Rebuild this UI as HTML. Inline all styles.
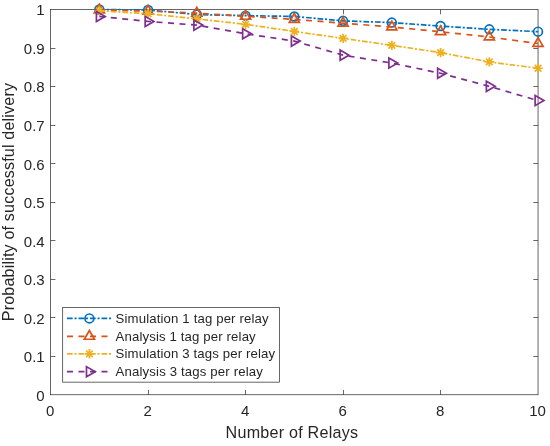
<!DOCTYPE html>
<html><head><meta charset="utf-8"><title>Probability of successful delivery</title>
<style>html,body{margin:0;padding:0;background:#fff}svg{display:block}text{font-family:"Liberation Sans",Arial,Helvetica,sans-serif;fill:#262626}</style></head><body>
<svg width="550" height="446" viewBox="0 0 550 446">
<rect width="550" height="446" fill="#fff"/>
<rect x="50.6" y="9.5" width="487.44999999999993" height="385.25" fill="none" stroke="#262626" stroke-width="0.7"/>
<path d="M148.50 394.75v-4.8M148.50 9.5v4.8M245.50 394.75v-4.8M245.50 9.5v4.8M343.50 394.75v-4.8M343.50 9.5v4.8M440.50 394.75v-4.8M440.50 9.5v4.8M50.6 356.50h4.8M538.05 356.50h-4.8M50.6 317.50h4.8M538.05 317.50h-4.8M50.6 279.50h4.8M538.05 279.50h-4.8M50.6 240.50h4.8M538.05 240.50h-4.8M50.6 202.50h4.8M538.05 202.50h-4.8M50.6 163.50h4.8M538.05 163.50h-4.8M50.6 125.50h4.8M538.05 125.50h-4.8M50.6 86.50h4.8M538.05 86.50h-4.8M50.6 48.50h4.8M538.05 48.50h-4.8" stroke="#262626" stroke-width="0.7" fill="none"/>
<text x="50.10" y="415.9" font-size="15" text-anchor="middle">0</text>
<text x="147.59" y="415.9" font-size="15" text-anchor="middle">2</text>
<text x="245.08" y="415.9" font-size="15" text-anchor="middle">4</text>
<text x="342.57" y="415.9" font-size="15" text-anchor="middle">6</text>
<text x="440.06" y="415.9" font-size="15" text-anchor="middle">8</text>
<text x="537.55" y="415.9" font-size="15" text-anchor="middle">10</text>
<text x="44.7" y="400.65" font-size="15" text-anchor="end">0</text>
<text x="44.7" y="362.12" font-size="15" text-anchor="end">0.1</text>
<text x="44.7" y="323.60" font-size="15" text-anchor="end">0.2</text>
<text x="44.7" y="285.07" font-size="15" text-anchor="end">0.3</text>
<text x="44.7" y="246.55" font-size="15" text-anchor="end">0.4</text>
<text x="44.7" y="208.03" font-size="15" text-anchor="end">0.5</text>
<text x="44.7" y="169.50" font-size="15" text-anchor="end">0.6</text>
<text x="44.7" y="130.98" font-size="15" text-anchor="end">0.7</text>
<text x="44.7" y="92.45" font-size="15" text-anchor="end">0.8</text>
<text x="44.7" y="53.92" font-size="15" text-anchor="end">0.9</text>
<text x="44.7" y="15.40" font-size="15" text-anchor="end">1</text>
<text x="225.6" y="438.2" font-size="16.13" textLength="132.4" lengthAdjust="spacing">Number of Relays</text>
<text transform="translate(13.6,321.2) rotate(-90)" font-size="16.13" textLength="238.2" lengthAdjust="spacing">Probability of successful delivery</text>
<polyline points="99.34,9.50 148.09,10.00 196.83,14.51 245.58,15.66 294.32,16.43 343.07,20.86 391.81,22.60 440.56,26.07 489.30,29.34 538.05,31.65" fill="none" stroke="#0072BD" stroke-width="1.7" stroke-dasharray="5.7 1.8 2.1 1.9"/>
<circle cx="99.34" cy="9.50" r="4.4" fill="none" stroke="#0072BD" stroke-width="1.7"/>
<circle cx="148.09" cy="10.00" r="4.4" fill="none" stroke="#0072BD" stroke-width="1.7"/>
<circle cx="196.83" cy="14.51" r="4.4" fill="none" stroke="#0072BD" stroke-width="1.7"/>
<circle cx="245.58" cy="15.66" r="4.4" fill="none" stroke="#0072BD" stroke-width="1.7"/>
<circle cx="294.32" cy="16.43" r="4.4" fill="none" stroke="#0072BD" stroke-width="1.7"/>
<circle cx="343.07" cy="20.86" r="4.4" fill="none" stroke="#0072BD" stroke-width="1.7"/>
<circle cx="391.81" cy="22.60" r="4.4" fill="none" stroke="#0072BD" stroke-width="1.7"/>
<circle cx="440.56" cy="26.07" r="4.4" fill="none" stroke="#0072BD" stroke-width="1.7"/>
<circle cx="489.30" cy="29.34" r="4.4" fill="none" stroke="#0072BD" stroke-width="1.7"/>
<circle cx="538.05" cy="31.65" r="4.4" fill="none" stroke="#0072BD" stroke-width="1.7"/>
<polyline points="99.34,10.04 148.09,11.16 196.83,13.16 245.58,16.32 294.32,19.36 343.07,23.21 391.81,26.95 440.56,31.77 489.30,36.97 538.05,43.52" fill="none" stroke="#D95319" stroke-width="1.7" stroke-dasharray="6 5.5"/>
<path d="M99.34 4.19L104.41 12.96L94.28 12.96Z" fill="none" stroke="#D95319" stroke-width="1.7"/>
<path d="M148.09 5.31L153.16 14.08L143.02 14.08Z" fill="none" stroke="#D95319" stroke-width="1.7"/>
<path d="M196.83 7.31L201.90 16.08L191.77 16.08Z" fill="none" stroke="#D95319" stroke-width="1.7"/>
<path d="M245.58 10.47L250.65 19.24L240.51 19.24Z" fill="none" stroke="#D95319" stroke-width="1.7"/>
<path d="M294.32 13.51L299.39 22.29L289.26 22.29Z" fill="none" stroke="#D95319" stroke-width="1.7"/>
<path d="M343.07 17.36L348.14 26.14L338.00 26.14Z" fill="none" stroke="#D95319" stroke-width="1.7"/>
<path d="M391.81 21.10L396.88 29.88L386.75 29.88Z" fill="none" stroke="#D95319" stroke-width="1.7"/>
<path d="M440.56 25.92L445.63 34.69L435.49 34.69Z" fill="none" stroke="#D95319" stroke-width="1.7"/>
<path d="M489.30 31.12L494.37 39.89L484.24 39.89Z" fill="none" stroke="#D95319" stroke-width="1.7"/>
<path d="M538.05 37.67L543.12 46.44L532.98 46.44Z" fill="none" stroke="#D95319" stroke-width="1.7"/>
<polyline points="99.34,10.81 148.09,13.74 196.83,18.90 245.58,24.33 294.32,31.46 343.07,38.39 391.81,45.33 440.56,52.65 489.30,61.89 538.05,68.25" fill="none" stroke="#EDB120" stroke-width="1.7" stroke-dasharray="5.7 1.8 2.1 1.9"/>
<path d="M94.64 10.81H104.05M99.34 6.11V15.51M96.02 7.49L102.67 14.13M96.02 14.13L102.67 7.49" fill="none" stroke="#EDB120" stroke-width="1.7"/>
<path d="M143.39 13.74H152.79M148.09 9.04V18.44M144.77 10.41L151.41 17.06M144.77 17.06L151.41 10.41" fill="none" stroke="#EDB120" stroke-width="1.7"/>
<path d="M192.13 18.90H201.53M196.83 14.20V23.60M193.51 15.58L200.16 22.22M193.51 22.22L200.16 15.58" fill="none" stroke="#EDB120" stroke-width="1.7"/>
<path d="M240.88 24.33H250.28M245.58 19.63V29.03M242.26 21.01L248.90 27.66M242.26 27.66L248.90 21.01" fill="none" stroke="#EDB120" stroke-width="1.7"/>
<path d="M289.62 31.46H299.02M294.32 26.76V36.16M291.00 28.14L297.65 34.78M291.00 34.78L297.65 28.14" fill="none" stroke="#EDB120" stroke-width="1.7"/>
<path d="M338.37 38.39H347.77M343.07 33.69V43.09M339.75 35.07L346.39 41.72M339.75 41.72L346.39 35.07" fill="none" stroke="#EDB120" stroke-width="1.7"/>
<path d="M387.12 45.33H396.51M391.81 40.63V50.03M388.49 42.00L395.14 48.65M388.49 48.65L395.14 42.00" fill="none" stroke="#EDB120" stroke-width="1.7"/>
<path d="M435.86 52.65H445.26M440.56 47.95V57.35M437.24 49.32L443.88 55.97M437.24 55.97L443.88 49.32" fill="none" stroke="#EDB120" stroke-width="1.7"/>
<path d="M484.60 61.89H494.00M489.30 57.19V66.59M485.98 58.57L492.63 65.22M485.98 65.22L492.63 58.57" fill="none" stroke="#EDB120" stroke-width="1.7"/>
<path d="M533.35 68.25H542.75M538.05 63.55V72.95M534.73 64.93L541.37 71.57M534.73 71.57L541.37 64.93" fill="none" stroke="#EDB120" stroke-width="1.7"/>
<polyline points="99.34,16.43 148.09,21.44 196.83,25.10 245.58,33.77 294.32,41.09 343.07,55.15 391.81,63.05 440.56,73.26 489.30,86.36 538.05,100.57" fill="none" stroke="#7E2F8E" stroke-width="1.7" stroke-dasharray="6 5.5"/>
<path d="M105.19 16.43L96.42 21.50L96.42 11.37Z" fill="none" stroke="#7E2F8E" stroke-width="1.7"/>
<path d="M153.94 21.44L145.16 26.51L145.16 16.38Z" fill="none" stroke="#7E2F8E" stroke-width="1.7"/>
<path d="M202.68 25.10L193.91 30.17L193.91 20.04Z" fill="none" stroke="#7E2F8E" stroke-width="1.7"/>
<path d="M251.43 33.77L242.65 38.84L242.65 28.70Z" fill="none" stroke="#7E2F8E" stroke-width="1.7"/>
<path d="M300.18 41.09L291.40 46.16L291.40 36.02Z" fill="none" stroke="#7E2F8E" stroke-width="1.7"/>
<path d="M348.92 55.15L340.14 60.22L340.14 50.09Z" fill="none" stroke="#7E2F8E" stroke-width="1.7"/>
<path d="M397.67 63.05L388.89 68.12L388.89 57.98Z" fill="none" stroke="#7E2F8E" stroke-width="1.7"/>
<path d="M446.41 73.26L437.63 78.33L437.63 68.19Z" fill="none" stroke="#7E2F8E" stroke-width="1.7"/>
<path d="M495.15 86.36L486.38 91.42L486.38 81.29Z" fill="none" stroke="#7E2F8E" stroke-width="1.7"/>
<path d="M543.90 100.57L535.12 105.64L535.12 95.51Z" fill="none" stroke="#7E2F8E" stroke-width="1.7"/>
<rect x="62.7" y="307.6" width="216.7" height="74.54999999999995" fill="#fff" stroke="#262626" stroke-width="0.7"/>
<path d="M67 318.4H111.4" stroke="#0072BD" stroke-width="1.7" stroke-dasharray="5.7 1.8 2.1 1.9" fill="none"/>
<circle cx="89.40" cy="318.40" r="4.4" fill="none" stroke="#0072BD" stroke-width="1.7"/>
<text x="115.6" y="323.00" font-size="13.2" fill="#0a0a0a" textLength="153" lengthAdjust="spacing">Simulation 1 tag per relay</text>
<path d="M67 336.3H111.4" stroke="#D95319" stroke-width="1.7" stroke-dasharray="6 5.5" fill="none"/>
<path d="M89.40 330.45L94.47 339.23L84.33 339.23Z" fill="none" stroke="#D95319" stroke-width="1.7"/>
<text x="115.6" y="340.90" font-size="13.2" fill="#0a0a0a" textLength="140.1" lengthAdjust="spacing">Analysis 1 tag per relay</text>
<path d="M67 353.8H111.4" stroke="#EDB120" stroke-width="1.7" stroke-dasharray="5.7 1.8 2.1 1.9" fill="none"/>
<path d="M84.70 353.80H94.10M89.40 349.10V358.50M86.08 350.48L92.72 357.12M86.08 357.12L92.72 350.48" fill="none" stroke="#EDB120" stroke-width="1.7"/>
<text x="115.6" y="358.40" font-size="13.2" fill="#0a0a0a" textLength="159.5" lengthAdjust="spacing">Simulation 3 tags per relay</text>
<path d="M67 371.7H111.4" stroke="#7E2F8E" stroke-width="1.7" stroke-dasharray="6 5.5" fill="none"/>
<path d="M95.25 371.70L86.48 376.77L86.48 366.63Z" fill="none" stroke="#7E2F8E" stroke-width="1.7"/>
<text x="115.6" y="376.30" font-size="13.2" fill="#0a0a0a" textLength="147.3" lengthAdjust="spacing">Analysis 3 tags per relay</text>
</svg>
</body></html>
